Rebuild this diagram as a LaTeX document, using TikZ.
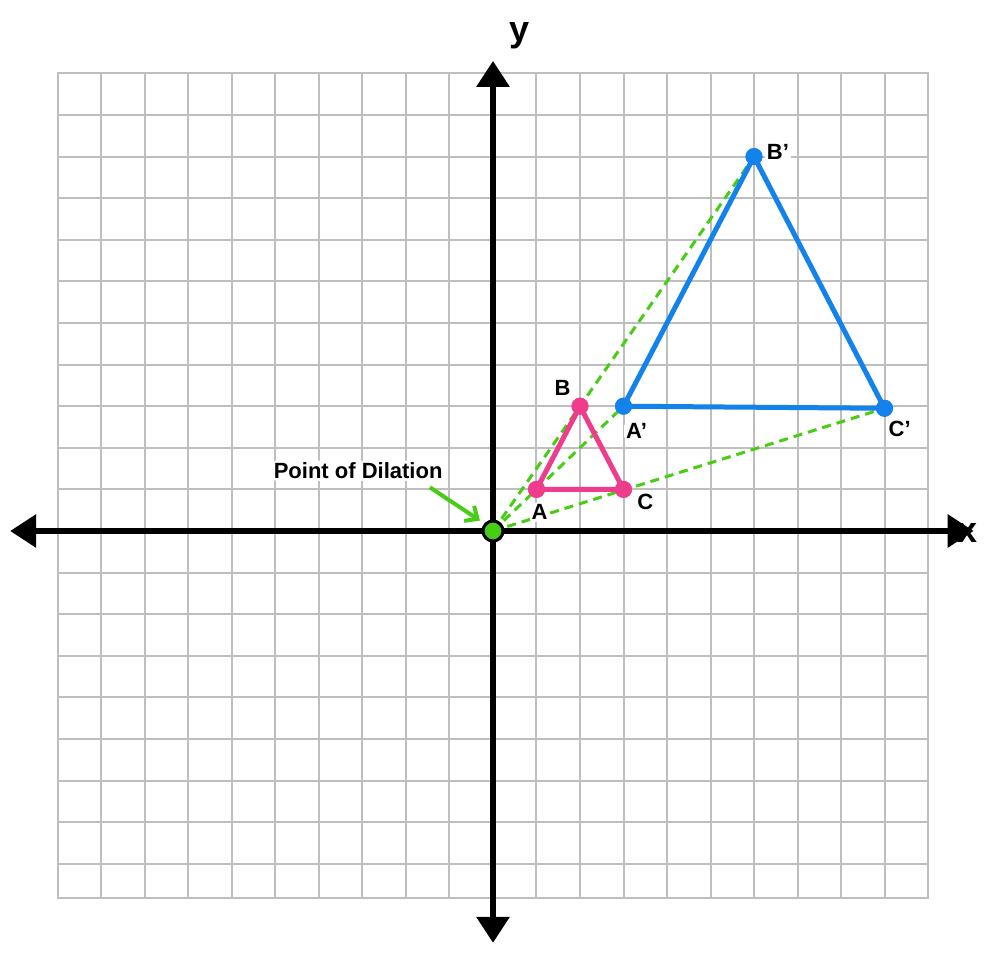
\documentclass[tikz,border=0pt]{standalone}
\usepackage{fontspec}
\setmainfont{Liberation Sans}
\usetikzlibrary{arrows.meta}
\definecolor{gridg}{RGB}{190,190,190}
\definecolor{pinkc}{RGB}{240,60,140}
\definecolor{bluec}{RGB}{20,130,235}
\definecolor{greenc}{RGB}{70,205,20}
\tikzset{
  lbl/.style={font=\bfseries\fontsize{22}{24}\selectfont, fill=white, rounded corners=4pt, inner sep=2pt},
  ptpink/.style={circle, fill=pinkc, inner sep=0pt, minimum size=17pt},
  ptblue/.style={circle, fill=bluec, inner sep=0pt, minimum size=17pt},
  axis/.style={line width=6pt, -{Triangle[length=26pt,width=32pt]}},
  dil/.style={greenc, line width=3pt, dash pattern=on 9pt off 6pt}
}
\begin{document}
\begin{tikzpicture}[x=43.5pt,y=41.6pt]
\useasboundingbox (-11.333,-10.409) rectangle (11.655,12.764);
\fill[white] (-11.333,-10.409) rectangle (11.655,12.764);
\foreach \i in {-10,...,10} \draw[gridg, line width=2pt] (\i,-8.82) -- (\i,11);
\foreach \j in {-8,...,11} \draw[gridg, line width=2pt] (-10,\j) -- (10,\j);
\draw[gridg, line width=2pt] (-10,-8.82) rectangle (10,11);
\draw[axis] (0,0) -- (11.05,0);
\draw[axis] (0,0) -- (-11.1,0);
\draw[axis] (0,0) -- (0,11.3);
\draw[axis] (0,0) -- (0,-9.9);
\node[font=\bfseries\fontsize{36}{38}\selectfont] (xl) at (10.9,-0.05) {x};
\node[font=\bfseries\fontsize{36}{38}\selectfont] (yl) at (0.6,11.9) {y};
\coordinate (O) at (0,0);
\node[ptpink] (A) at (1,1) {};
\node[ptpink] (B) at (2,3) {};
\node[ptpink] (C) at (3,1) {};
\node[ptblue] (A2) at (3,3) {};
\node[ptblue] (B2) at (6,9) {};
\node[ptblue] (C2) at (9,2.95) {};
\draw[dil] (O) -- (A2.center);
\draw[dil] (O) -- (B2.center);
\draw[dil] (O) -- (C2.center);
\draw[pinkc, line width=5pt, line join=round] (A.center) -- (B.center) -- (C.center) -- cycle;
\draw[bluec, line width=5pt, line join=round] (A2.center) -- (B2.center) -- (C2.center) -- cycle;
\node[ptpink] at (A) {};\node[ptpink] at (B) {};\node[ptpink] at (C) {};
\node[ptblue] at (A2) {};\node[ptblue] at (B2) {};\node[ptblue] at (C2) {};
\node[circle, fill=greenc, draw=black, line width=3pt, minimum size=20pt, inner sep=0pt] (Od) at (O) {};
\node[lbl] (la) at (1.07,0.45) {A};
\node[lbl] (lb) at (1.6,3.45) {B};
\node[lbl] (lc) at (3.5,0.7) {C};
\node[lbl] (la2) at (3.3,2.4) {A’};
\node[lbl] (lb2) at (6.55,9.1) {B’};
\node[lbl] (lc2) at (9.35,2.45) {C’};
\node[lbl] (pd) at (-3.1,1.45) {Point of Dilation};
\draw[greenc, line width=4pt, -{Straight Barb[length=10pt,width=18pt]}] (-1.45,1.05) -- (-0.3,0.25);
\end{tikzpicture}
\end{document}
